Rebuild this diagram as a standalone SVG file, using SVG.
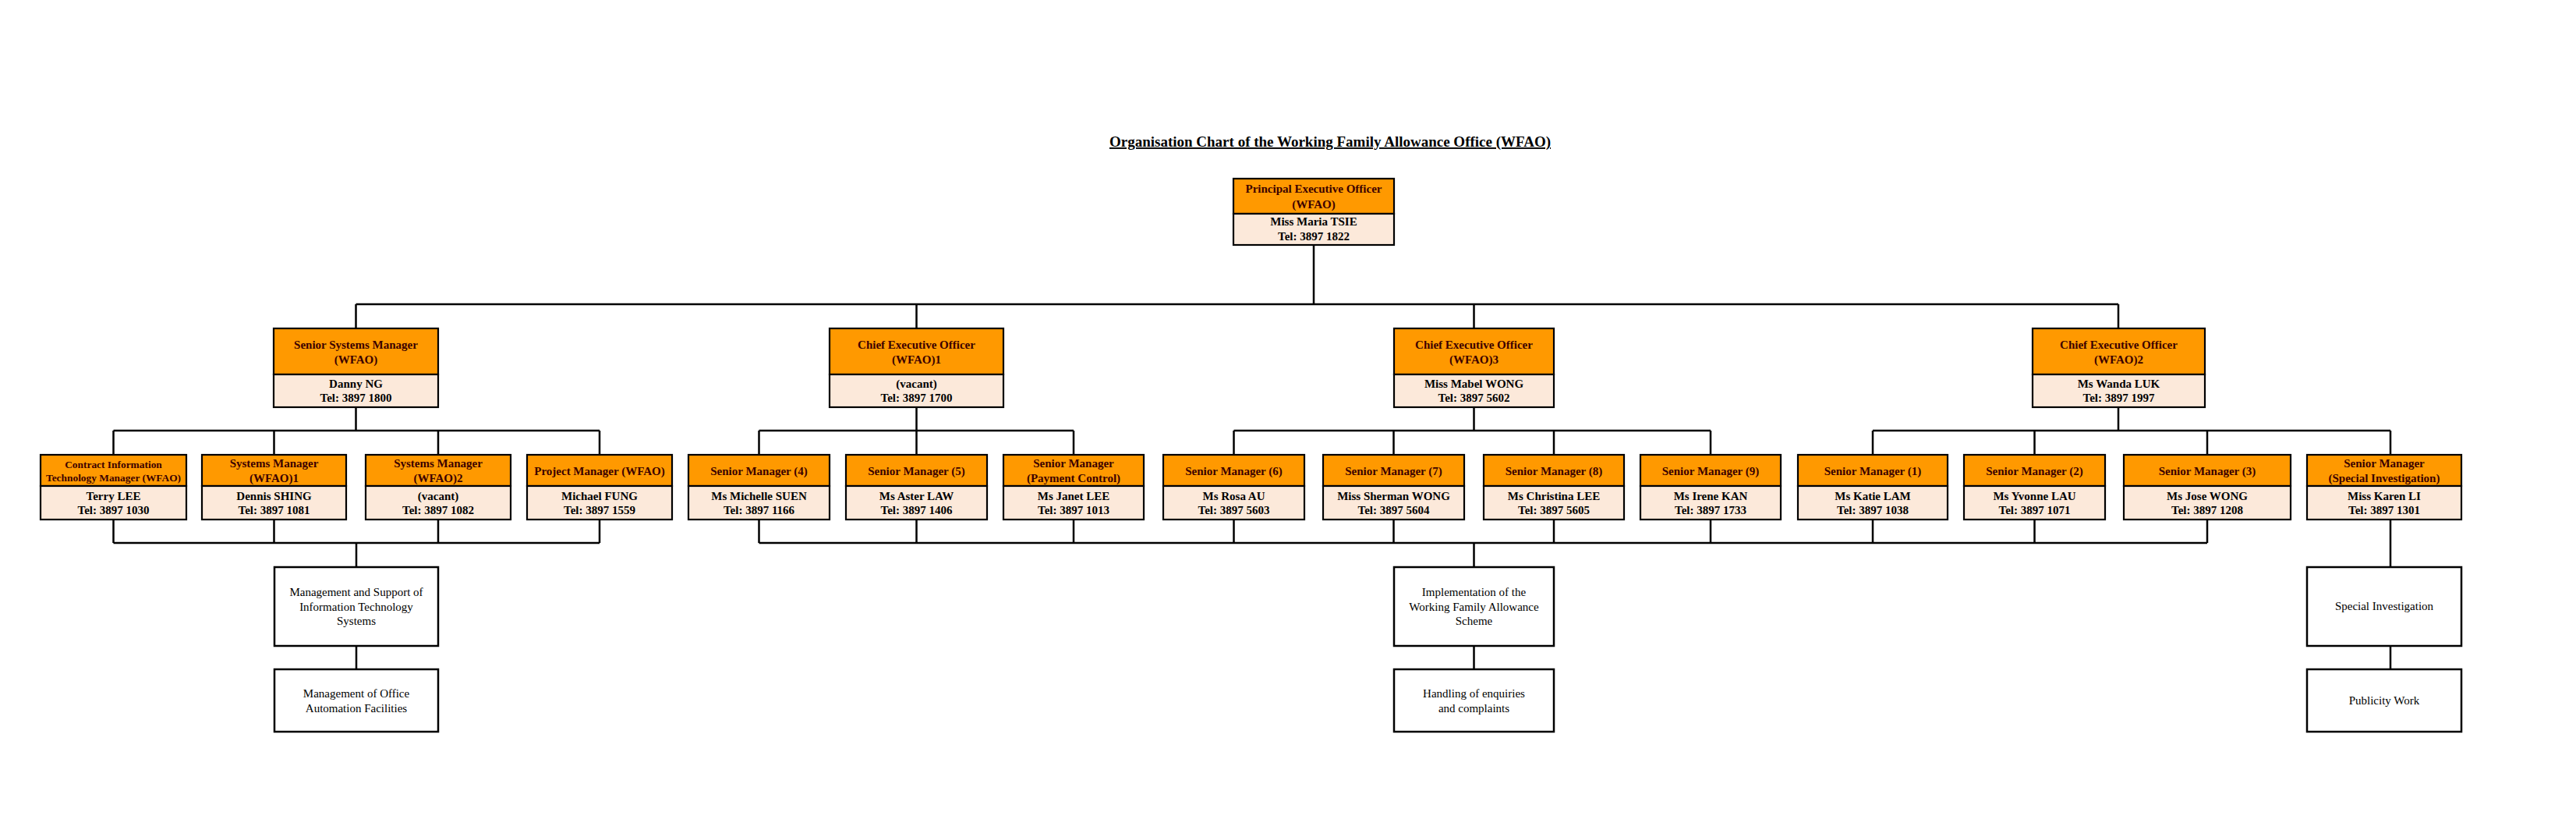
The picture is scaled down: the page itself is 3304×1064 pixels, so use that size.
<svg xmlns="http://www.w3.org/2000/svg" width="3304" height="1064" viewBox="0 0 3304 1064">
<style>
.hd{fill:#FF9900;stroke:#000;stroke-width:2.2}
.bd{fill:#FCE9DA;stroke:#000;stroke-width:2.2}
.fn{fill:#fff;stroke:#000;stroke-width:2.5}
.c{fill:none;stroke:#000;stroke-width:2.5}
text{font-family:"Liberation Serif","Times New Roman",serif;text-anchor:middle}
.ht{font-size:15px;font-weight:bold;fill:#3a0000}
.hs{font-size:13.4px;font-weight:bold;fill:#3a0000}
.bt{font-size:15px;font-weight:bold;fill:#000}
.ft{font-size:15px;fill:#000}
.ti{font-size:19px;font-weight:bold;fill:#000;text-decoration:underline}
</style>
<rect width="3304" height="1064" fill="#fff"/>
<text class="ti" x="1706" y="188">Organisation Chart of the Working Family Allowance Office (WFAO)</text>

<g id="connectors">
<path class="c" d="M1685 314V390M456.5 390H2717M456.5 390V421M1175.5 390V421M1890.5 390V421M2717 390V421"/>
<path class="c" d="M456.5 522V552M145.5 552H769M145.5 552V583M351.5 552V583M562 552V583M769 552V583"/>
<path class="c" d="M1175.5 522V552M973.5 552H1377M973.5 552V583M1175.5 552V583M1377 552V583"/>
<path class="c" d="M1890.5 522V552M1582.5 552H2194M1582.5 552V583M1787.5 552V583M1993 552V583M2194 552V583"/>
<path class="c" d="M2717 522V552M2402 552H3066M2402 552V583M2609.5 552V583M2831 552V583M3066 552V583"/>
<path class="c" d="M145.5 666V696M351.5 666V696M562 666V696M769 666V696M145.5 696H769M457 696V727M457 828V858"/>
<path class="c" d="M973.5 666V696M1175.5 666V696M1377 666V696M1582.5 666V696M1787.5 666V696M1993 666V696M2194 666V696M2402 666V696M2609.5 666V696M2831 666V696M973.5 696H2831M1890.5 696V727M1890.5 828V858"/>
<path class="c" d="M3066 666V727M3066 828V858"/>
</g>

<g id="peo"><rect class="hd" x="1582" y="229" width="206" height="45"/><rect class="bd" x="1582" y="274" width="206" height="40"/>
<text class="ht" x="1685" y="247">Principal Executive Officer</text><text class="ht" x="1685" y="267">(WFAO)</text>
<text class="bt" x="1685" y="289">Miss Maria TSIE</text><text class="bt" x="1685" y="308">Tel: 3897 1822</text></g>

<g id="ssm"><rect class="hd" x="351" y="421" width="211" height="59"/><rect class="bd" x="351" y="480" width="211" height="42"/>
<text class="ht" x="456.5" y="447">Senior Systems Manager</text><text class="ht" x="456.5" y="466">(WFAO)</text>
<text class="bt" x="456.5" y="497">Danny NG</text><text class="bt" x="456.5" y="515">Tel: 3897 1800</text></g>

<g id="ceo1"><rect class="hd" x="1064" y="421" width="223" height="59"/><rect class="bd" x="1064" y="480" width="223" height="42"/>
<text class="ht" x="1175.5" y="447">Chief Executive Officer</text><text class="ht" x="1175.5" y="466">(WFAO)1</text>
<text class="bt" x="1175.5" y="497">(vacant)</text><text class="bt" x="1175.5" y="515">Tel: 3897 1700</text></g>

<g id="ceo3"><rect class="hd" x="1788" y="421" width="205" height="59"/><rect class="bd" x="1788" y="480" width="205" height="42"/>
<text class="ht" x="1890.5" y="447">Chief Executive Officer</text><text class="ht" x="1890.5" y="466">(WFAO)3</text>
<text class="bt" x="1890.5" y="497">Miss Mabel WONG</text><text class="bt" x="1890.5" y="515">Tel: 3897 5602</text></g>

<g id="ceo2"><rect class="hd" x="2607" y="421" width="221" height="59"/><rect class="bd" x="2607" y="480" width="221" height="42"/>
<text class="ht" x="2717.5" y="447">Chief Executive Officer</text><text class="ht" x="2717.5" y="466">(WFAO)2</text>
<text class="bt" x="2717.5" y="497">Ms Wanda LUK</text><text class="bt" x="2717.5" y="515">Tel: 3897 1997</text></g>

<g id="cit"><rect class="hd" x="52" y="583" width="187" height="40"/><rect class="bd" x="52" y="623" width="187" height="43"/>
<text class="hs" x="145.5" y="600">Contract Information</text><text class="hs" x="145.5" y="617">Technology Manager (WFAO)</text>
<text class="bt" x="145.5" y="641">Terry LEE</text><text class="bt" x="145.5" y="659">Tel: 3897 1030</text></g>

<g id="sys1"><rect class="hd" x="259" y="583" width="185" height="40"/><rect class="bd" x="259" y="623" width="185" height="43"/>
<text class="ht" x="351.5" y="599">Systems Manager</text><text class="ht" x="351.5" y="618">(WFAO)1</text>
<text class="bt" x="351.5" y="641">Dennis SHING</text><text class="bt" x="351.5" y="659">Tel: 3897 1081</text></g>

<g id="sys2"><rect class="hd" x="469" y="583" width="186" height="40"/><rect class="bd" x="469" y="623" width="186" height="43"/>
<text class="ht" x="562" y="599">Systems Manager</text><text class="ht" x="562" y="618">(WFAO)2</text>
<text class="bt" x="562" y="641">(vacant)</text><text class="bt" x="562" y="659">Tel: 3897 1082</text></g>

<g id="pm"><rect class="hd" x="676" y="583" width="186" height="40"/><rect class="bd" x="676" y="623" width="186" height="43"/>
<text class="ht" x="769" y="609">Project Manager (WFAO)</text>
<text class="bt" x="769" y="641">Michael FUNG</text><text class="bt" x="769" y="659">Tel: 3897 1559</text></g>

<g id="sm4"><rect class="hd" x="883" y="583" width="181" height="40"/><rect class="bd" x="883" y="623" width="181" height="43"/>
<text class="ht" x="973.5" y="609">Senior Manager (4)</text>
<text class="bt" x="973.5" y="641">Ms Michelle SUEN</text><text class="bt" x="973.5" y="659">Tel: 3897 1166</text></g>

<g id="sm5"><rect class="hd" x="1085" y="583" width="181" height="40"/><rect class="bd" x="1085" y="623" width="181" height="43"/>
<text class="ht" x="1175.5" y="609">Senior Manager (5)</text>
<text class="bt" x="1175.5" y="641">Ms Aster LAW</text><text class="bt" x="1175.5" y="659">Tel: 3897 1406</text></g>

<g id="smpc"><rect class="hd" x="1287" y="583" width="180" height="40"/><rect class="bd" x="1287" y="623" width="180" height="43"/>
<text class="ht" x="1377" y="599">Senior Manager</text><text class="ht" x="1377" y="618">(Payment Control)</text>
<text class="bt" x="1377" y="641">Ms Janet LEE</text><text class="bt" x="1377" y="659">Tel: 3897 1013</text></g>

<g id="sm6"><rect class="hd" x="1492" y="583" width="181" height="40"/><rect class="bd" x="1492" y="623" width="181" height="43"/>
<text class="ht" x="1582.5" y="609">Senior Manager (6)</text>
<text class="bt" x="1582.5" y="641">Ms Rosa AU</text><text class="bt" x="1582.5" y="659">Tel: 3897 5603</text></g>

<g id="sm7"><rect class="hd" x="1697" y="583" width="181" height="40"/><rect class="bd" x="1697" y="623" width="181" height="43"/>
<text class="ht" x="1787.5" y="609">Senior Manager (7)</text>
<text class="bt" x="1787.5" y="641">Miss Sherman WONG</text><text class="bt" x="1787.5" y="659">Tel: 3897 5604</text></g>

<g id="sm8"><rect class="hd" x="1903" y="583" width="180" height="40"/><rect class="bd" x="1903" y="623" width="180" height="43"/>
<text class="ht" x="1993" y="609">Senior Manager (8)</text>
<text class="bt" x="1993" y="641">Ms Christina LEE</text><text class="bt" x="1993" y="659">Tel: 3897 5605</text></g>

<g id="sm9"><rect class="hd" x="2104" y="583" width="180" height="40"/><rect class="bd" x="2104" y="623" width="180" height="43"/>
<text class="ht" x="2194" y="609">Senior Manager (9)</text>
<text class="bt" x="2194" y="641">Ms Irene KAN</text><text class="bt" x="2194" y="659">Tel: 3897 1733</text></g>

<g id="sm1"><rect class="hd" x="2306" y="583" width="192" height="40"/><rect class="bd" x="2306" y="623" width="192" height="43"/>
<text class="ht" x="2402" y="609">Senior Manager (1)</text>
<text class="bt" x="2402" y="641">Ms Katie LAM</text><text class="bt" x="2402" y="659">Tel: 3897 1038</text></g>

<g id="sm2"><rect class="hd" x="2519" y="583" width="181" height="40"/><rect class="bd" x="2519" y="623" width="181" height="43"/>
<text class="ht" x="2609.5" y="609">Senior Manager (2)</text>
<text class="bt" x="2609.5" y="641">Ms Yvonne LAU</text><text class="bt" x="2609.5" y="659">Tel: 3897 1071</text></g>

<g id="sm3"><rect class="hd" x="2724" y="583" width="214" height="40"/><rect class="bd" x="2724" y="623" width="214" height="43"/>
<text class="ht" x="2831" y="609">Senior Manager (3)</text>
<text class="bt" x="2831" y="641">Ms Jose WONG</text><text class="bt" x="2831" y="659">Tel: 3897 1208</text></g>

<g id="smsi"><rect class="hd" x="2959" y="583" width="198" height="40"/><rect class="bd" x="2959" y="623" width="198" height="43"/>
<text class="ht" x="3058" y="599">Senior Manager</text><text class="ht" x="3058" y="618">(Special Investigation)</text>
<text class="bt" x="3058" y="641">Miss Karen LI</text><text class="bt" x="3058" y="659">Tel: 3897 1301</text></g>

<g id="f-it"><rect class="fn" x="352" y="727" width="210" height="101"/>
<text class="ft" x="457" y="764">Management and Support of</text><text class="ft" x="457" y="783">Information Technology</text><text class="ft" x="457" y="801">Systems</text></g>
<g id="f-oa"><rect class="fn" x="352" y="858" width="210" height="80"/>
<text class="ft" x="457" y="894">Management of Office</text><text class="ft" x="457" y="913">Automation Facilities</text></g>

<g id="f-wfa"><rect class="fn" x="1788" y="727" width="205" height="101"/>
<text class="ft" x="1890.5" y="764">Implementation of the</text><text class="ft" x="1890.5" y="783">Working Family Allowance</text><text class="ft" x="1890.5" y="801">Scheme</text></g>
<g id="f-enq"><rect class="fn" x="1788" y="858" width="205" height="80"/>
<text class="ft" x="1890.5" y="894">Handling of enquiries</text><text class="ft" x="1890.5" y="913">and complaints</text></g>

<g id="f-si"><rect class="fn" x="2959" y="727" width="198" height="101"/>
<text class="ft" x="3058" y="782">Special Investigation</text></g>
<g id="f-pw"><rect class="fn" x="2959" y="858" width="198" height="80"/>
<text class="ft" x="3058" y="903">Publicity Work</text></g>
</svg>
